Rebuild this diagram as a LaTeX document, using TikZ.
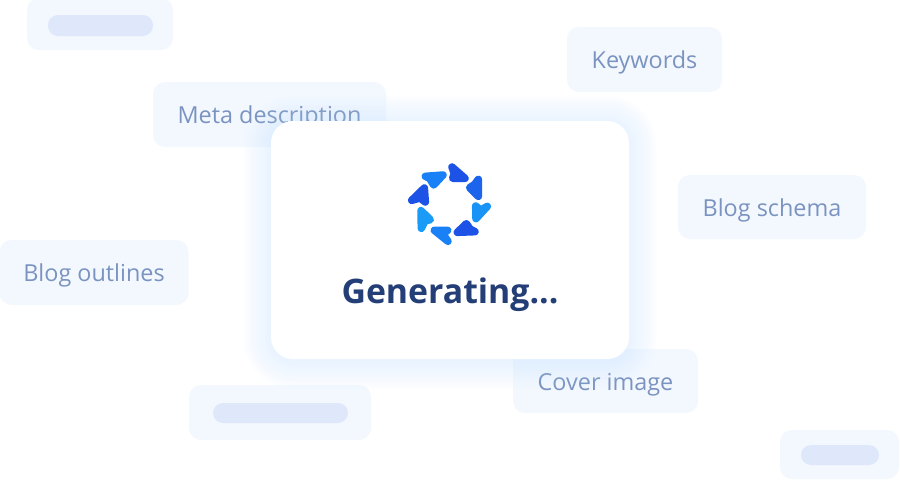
\documentclass[tikz,border=0pt]{standalone}
\usepackage{fontspec}
\setmainfont{Open Sans}
\usetikzlibrary{calc}
\definecolor{chipfill}{HTML}{F3F8FE}
\definecolor{pillfill}{HTML}{DFE7FB}
\definecolor{chiptext}{HTML}{7B93C1}
\definecolor{headtext}{HTML}{243F78}
\definecolor{arrowA}{HTML}{1A80F5}
\definecolor{arrowB}{HTML}{1D52E6}
\definecolor{arrowC}{HTML}{1A9BF8}
\definecolor{glow}{HTML}{B8DCFF}
\tikzset{
  x=1pt,y=-1pt,
  chip/.style={fill=chipfill,rounded corners=12pt,inner sep=0pt,text height=18pt,text depth=0pt,font=\fontsize{23.4}{27}\selectfont,text=chiptext},
  pill/.style={fill=pillfill,rounded corners=10pt,inner sep=0pt},
  petal/.style={line width=7.5pt,line join=round},
}
\newcommand{\chipat}[6]{\node[chip,minimum width=#4pt,minimum height=#5pt] (#1) at (#2,#3) {#6};}
\newcommand{\pillat}[5]{\node[pill,minimum width=#4pt,minimum height=#5pt] (#1) at (#2,#3) {};}
% one spinner petal, points given in 3x crop coordinates
\newcommand{\petalat}[9]{\filldraw[#1,petal] ({390+#2/3},{150+#3/3}) -- ({390+#4/3},{150+#5/3}) -- ({390+#6/3},{150+#7/3}) -- ({390+#8/3},{150+#9/3}) -- cycle;}
\begin{document}
\begin{tikzpicture}
\useasboundingbox (0,0) rectangle (900,480);
\fill[white] (0,0) rectangle (900,480);
\chipat{c1}{100}{24}{146}{52}{}
\pillat{p1}{100.5}{25.5}{105}{21}
\chipat{meta}{269.5}{114.5}{233}{65}{Meta description}
\chipat{kw}{644.5}{59.5}{155}{65}{Keywords}
\chipat{schema}{772}{207}{188}{64}{Blog schema}
\chipat{outl}{94}{272.5}{189}{65}{Blog outlines}
\chipat{cover}{605.5}{381}{185}{64}{Cover image}
\chipat{c2}{280}{412.5}{182}{55}{}
\pillat{p2}{280.5}{413}{135}{20}
\chipat{c3}{839.5}{454.5}{119}{49}{}
\pillat{p3}{840}{455}{78}{20}
% soft shadow
\foreach \g in {27,24,...,3}{
  \fill[glow,opacity=0.03,rounded corners=\the\numexpr22+\g\relax pt]
    (271-\g,123-\g) rectangle (629+\g,361+\g);
}
\node[fill=white,rounded corners=22pt,minimum width=358pt,minimum height=238pt,inner sep=0pt] (card) at (450,240) {};
\node[font=\fontsize{33.8}{38}\selectfont\bfseries,text=headtext,inner sep=0pt] (gen) at (450,294.5) {Generating...};
% spinner
\petalat{arrowA}{106}{79}{159}{75}{131}{105}{119}{85}
\petalat{arrowB}{186}{51}{225}{85}{188}{85}{193}{71}
\petalat{arrowB!60!arrowA}{265}{88}{265}{139}{239}{113}{254}{103}
\petalat{arrowC!70!arrowA}{292}{169}{258}{206}{257}{168}{272}{180}
\petalat{arrowB}{255}{245}{202}{247}{229}{221}{240}{237}
\petalat{arrowA}{174}{274}{133}{241}{173}{241}{158}{251}
\petalat{arrowC}{94}{235}{93}{182}{121}{209}{105}{213}
\petalat{arrowB}{65}{151}{103}{114}{106}{156}{90}{144}
\end{tikzpicture}
\end{document}
